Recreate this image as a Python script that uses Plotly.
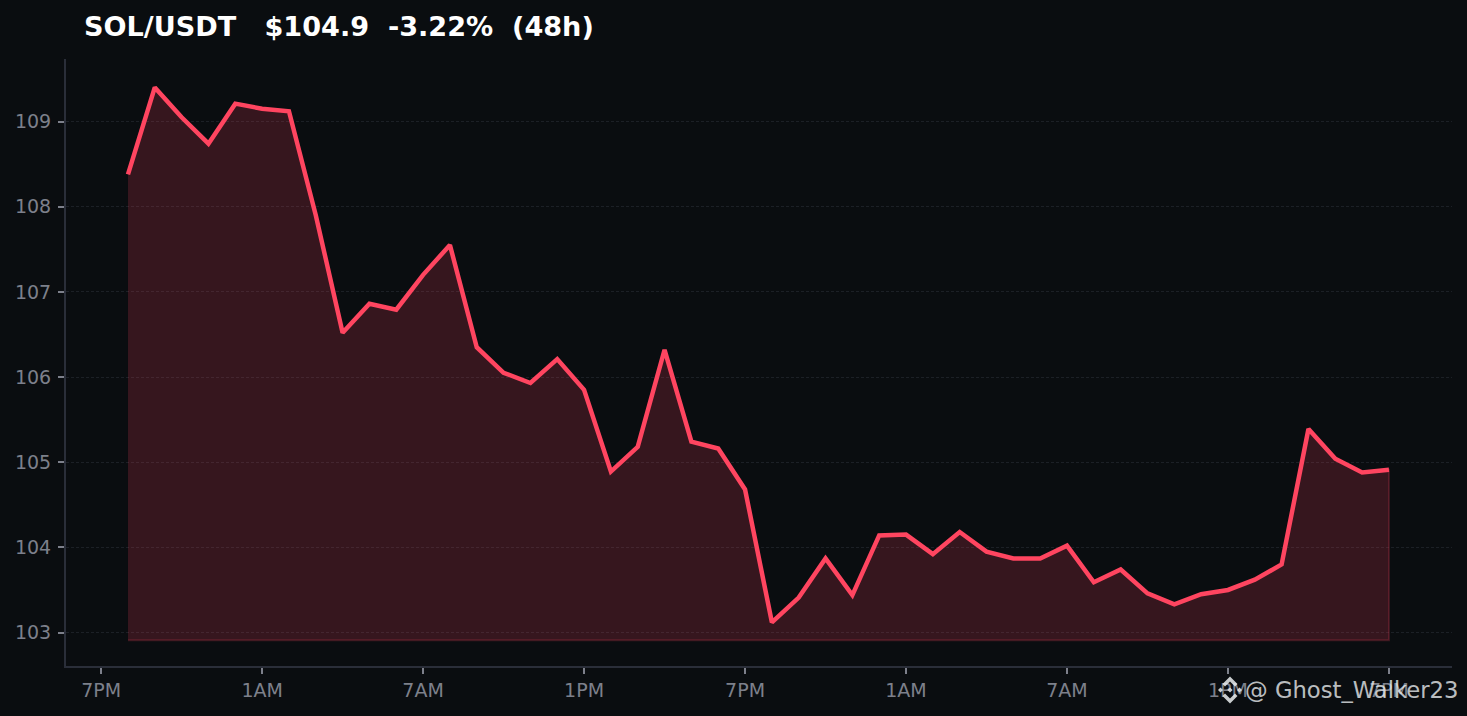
import plotly.graph_objects as go

# Hourly closes over the last 48h
hours = list(range(48))
prices = [108.38, 109.40, 109.05, 108.74, 109.21, 109.15, 109.12, 107.90,
          106.52, 106.86, 106.79, 107.20, 107.55, 106.35, 106.05, 105.93,
          106.21, 105.85, 104.89, 105.18, 106.32, 105.24, 105.16, 104.68,
          103.12, 103.41, 103.87, 103.44, 104.14, 104.15, 103.92, 104.18,
          103.95, 103.87, 103.87, 104.02, 103.59, 103.74, 103.46, 103.33,
          103.45, 103.50, 103.62, 103.80, 105.39, 105.04, 104.88, 104.91]
fill_floor = 102.91

tick_hours = [-1, 5, 11, 17, 23, 29, 35, 41, 47]
tick_labels = ["7PM", "1AM", "7AM", "1PM", "7PM", "1AM", "7AM", "1PM", "7PM"]
price_ticks = [103, 104, 105, 106, 107, 108, 109]

BG = "#0a0d10"
RED = "#ff4560"
W, H = 1467, 716
L, R, T, B = 66, 1452, 59, 666

fig = go.Figure()

# shaded area, closed down to the floor value
fig.add_trace(go.Scatter(
    x=hours + [hours[-1], hours[0]],
    y=prices + [fill_floor, fill_floor],
    mode="lines",
    fill="toself",
    fillcolor="rgba(255,69,96,0.18)",
    line=dict(color="rgba(255,69,96,0.2)", width=2),
    hoverinfo="skip",
    showlegend=False,
))
fig.add_trace(go.Scatter(
    x=hours,
    y=prices,
    mode="lines",
    line=dict(color=RED, width=4.5),
    showlegend=False,
))

fig.update_layout(
    width=W,
    height=H,
    margin=dict(l=L, r=W - R, t=T, b=H - B),
    paper_bgcolor=BG,
    plot_bgcolor=BG,
    font=dict(family="DejaVu Sans", color="#7d808b", size=19),
    title=dict(
        text="SOL/USDT   $104.9  -3.22%  (48h)",
        font=dict(family="DejaVu Sans", size=27.1, color="white", weight="bold"),
        xref="container", yref="container",
        x=84 / W, xanchor="left",
        y=1 - 27 / H, yanchor="middle",
    ),
)
fig.update_xaxes(
    range=[-2.31, 49.35],
    tickvals=tick_hours,
    ticktext=tick_labels,
    ticks="outside",
    ticklen=6,
    tickwidth=2,
    tickcolor="#7d808b",
    showline=True,
    linecolor="#2a2e39",
    linewidth=2,
    showgrid=False,
    zeroline=False,
)
fig.update_yaxes(
    range=[102.607, 109.734],
    tickvals=price_ticks,
    ticks="outside",
    ticklen=6,
    tickwidth=2,
    tickcolor="#7d808b",
    ticklabelstandoff=3,
    showline=True,
    linecolor="#2a2e39",
    linewidth=2,
    showgrid=True,
    gridcolor="#1c2026",
    griddash="3px,2px",
    gridwidth=1,
    zeroline=False,
)

# watermark over the bottom right corner
fig.add_annotation(
    text="@ Ghost_Walker23",
    xref="paper", yref="paper",
    x=(1460 - L) / (R - L), xanchor="right",
    y=(B - 690) / (B - T), yanchor="middle",
    showarrow=False,
    font=dict(family="DejaVu Sans", size=22.7, color="rgba(235,238,240,0.8)"),
)


def logo_part(points, cx=1230, cy=690):
    segs = []
    for i, (dx, dy) in enumerate(points):
        px = (cx + dx - L) / (R - L)
        py = (B - cy - dy) / (B - T)
        segs.append(f"{'M' if i == 0 else 'L'} {px} {py}")
    return dict(
        type="path",
        xref="paper", yref="paper",
        path=" ".join(segs) + " Z",
        fillcolor="rgba(235,238,240,0.85)",
        line=dict(width=0),
    )


top = [(0, -13.5), (7.5, -6), (5, -3.5), (0, -8.5), (-5, -3.5), (-7.5, -6)]
bottom = [(x, -y) for x, y in top]
for part in [top, bottom,
             [(-2.6, 0), (0, -2.6), (2.6, 0), (0, 2.6)],
             [(-12, 0), (-9.5, -2.5), (-7, 0), (-9.5, 2.5)],
             [(7, 0), (9.5, -2.5), (12, 0), (9.5, 2.5)]]:
    fig.add_shape(logo_part(part))

fig.write_html(
    "out.html",
    config={"displayModeBar": False},
    post_script="document.body.style.margin='0';document.body.style.background='#0a0d10';",
)
